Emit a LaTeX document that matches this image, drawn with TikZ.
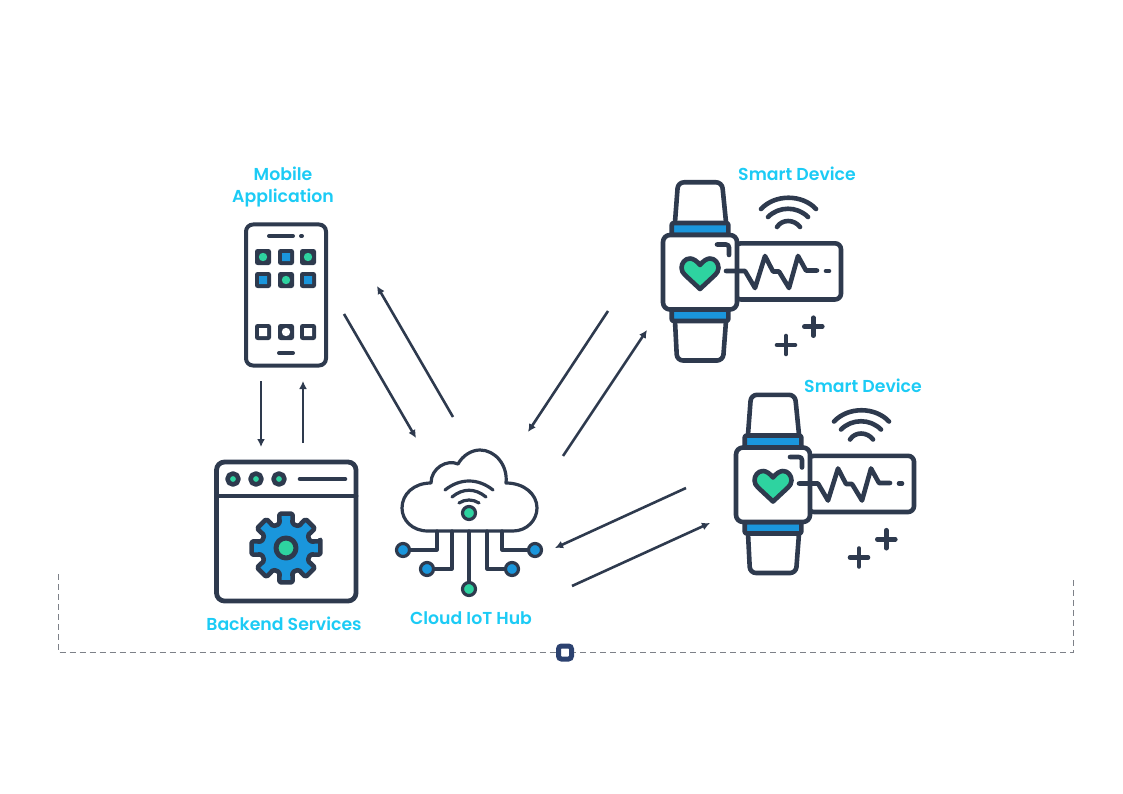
\documentclass[tikz,border=0pt]{standalone}
\usepackage{fontspec}
\setmainfont{Poppins}
\newfontfamily\labelfont{Poppins SemiBold}
\usetikzlibrary{arrows.meta}
\definecolor{inkdark}{HTML}{2E3A4E}
\definecolor{iconblue}{HTML}{1A96DC}
\definecolor{icongreen}{HTML}{2ED3A0}
\definecolor{labelcyan}{HTML}{1CCBF5}
\definecolor{dashgray}{HTML}{7D8188}
\definecolor{markerblue}{HTML}{2C4270}
\tikzset{
  icon/.style={draw=inkdark,line width=4.6pt,line cap=round,line join=round},
  thinicon/.style={draw=inkdark,line width=3.2pt,line cap=round,line join=round},
  label/.style={text=labelcyan,font=\fontsize{17.3}{22}\selectfont\labelfont,align=center,inner sep=0pt},
  flow/.style={draw=inkdark,line width=2.6pt,-{Latex[length=8pt,width=8pt]}},
  frame/.style={draw=dashgray,line width=1pt,dash pattern=on 6pt off 4pt},
  marker/.style={draw=markerblue,fill=white,line width=5pt,rounded corners=3pt,minimum size=13pt,inner sep=0pt},
  appkey/.style={fill=inkdark,rounded corners=2.5pt,minimum size=16pt,inner sep=0pt},
  smartwatch/.pic={
    % strap box with the pulse
    \draw[icon,fill=white,rounded corners=6pt] (735,243.3) rectangle (841,299.5);
    % straps
    \draw[icon,rounded corners=6pt] (675,222) -- (678,182.3) -- (722,182.3) -- (726,222);
    \draw[icon,rounded corners=6pt] (675,321) -- (677,360.5) -- (723,360.5) -- (726,321);
    \draw[icon,fill=iconblue,rounded corners=2pt] (671.7,223) rectangle (728.3,235);
    \draw[icon,fill=iconblue,rounded corners=2pt] (671.7,309.5) rectangle (728.3,321);
    % case
    \draw[icon,fill=white,rounded corners=7pt] (663,235) rectangle (737,309.5);
    \draw[icon,rounded corners=3pt] (717,244.5) -- (729,244.5) -- (729,255);
    \draw[icon,fill=icongreen] (700,265) .. controls (697,261) and (693,258.5) .. (690,258.5)
      .. controls (685,258.5) and (681.5,263) .. (681.5,268)
      .. controls (681.5,271) and (683,273) .. (685,275) -- (700,289) -- (715,275)
      .. controls (717,273) and (718.5,271) .. (718.5,268)
      .. controls (718.5,263) and (715,258.5) .. (710,258.5)
      .. controls (707,258.5) and (703,261) .. (700,265) -- cycle;
    \draw[icon] (726,271) -- (745,271) -- (755,288) -- (765,256) -- (773,271.5) -- (779,271.5)
      -- (789,288) -- (798,256) -- (806,270.5) -- (817,270.5);
    \draw[icon] (826,271) -- (829,271);
    % signal
    \draw[icon] (761,209) .. controls (775,194) and (802,194) .. (816,209);
    \draw[icon] (768,217) .. controls (779,206) and (797,206) .. (808,217);
    \draw[icon] (777,227) .. controls (782,219) and (794,219) .. (800,227);
    % plus signs
    \draw[icon] (777,345) -- (795,345) (786,336) -- (786,354);
    \draw[icon] (804.3,326.7) -- (822.3,326.7) (813.3,317.7) -- (813.3,335.7);
  }
}
\begin{document}
\begin{tikzpicture}[x=1pt,y=-1pt]
  \useasboundingbox (0,0) rectangle (1123,794);
  % phone
  \node[label] (mobile) at (283,187.5) {Mobile\\Application};
  \draw[icon,line width=4pt,rounded corners=7pt] (246,224.5) rectangle (326,365.5);
  \draw[icon,line width=4pt] (269,236) -- (293,236);
  \draw[icon,line width=4pt] (301,236) -- (302,236);
  \draw[icon,line width=4pt] (279,353) -- (293,353);
  \node[appkey] (appa) at (263,257) {};
  \node[appkey] (appb) at (286,257) {};
  \node[appkey] (appc) at (308,257) {};
  \node[appkey] (appd) at (263,280) {};
  \node[appkey] (appe) at (286,280) {};
  \node[appkey] (appf) at (308,280) {};
  \node[appkey] (appg) at (263,332) {};
  \node[appkey] (apph) at (286,332) {};
  \node[appkey] (appi) at (308,332) {};
  \fill[icongreen] (appa) circle (4.2) (appc) circle (4.2) (appe) circle (4.2);
  \fill[iconblue] (282,253) rectangle (290,261) (259,276) rectangle (267,284) (304,276) rectangle (312,284);
  \fill[white] (259,328) rectangle (267,336) (304,328) rectangle (312,336) (apph) circle (4.2);
  % backend window
  \node[label] (backend) at (284,624) {Backend Services};
  \draw[icon,line width=4.8pt,rounded corners=8pt] (216.5,462) rectangle (356,601);
  \draw[icon,line width=4.8pt] (216.5,496) -- (356,496);
  \foreach \x in {233,256,279}
    \draw[icon,fill=icongreen] (\x,479) circle (5.5);
  \draw[icon] (300,479) -- (345,479);
  \begin{scope}[shift={(286,548)}]
    \draw[icon,fill=iconblue,rounded corners=1.5pt] (-11:35)
      \foreach \a in {0,45,...,315} {
        -- (\a-11:35) -- (\a+11:35) -- (\a+15:25) -- (\a+30:25)
      } -- cycle;
    \draw[icon,line width=5pt,fill=icongreen] (0,0) circle (10);
  \end{scope}
  % cloud
  \node[label] (hub) at (471,618) {Cloud IoT Hub};
  \draw[thinicon] (428,531) .. controls (412,531) and (402,520) .. (402,508)
    .. controls (402,494) and (414,483) .. (431,483)
    .. controls (431,468) and (447,459) .. (458,464)
    .. controls (463,455) and (472,450) .. (480,450)
    .. controls (495,450) and (508,465) .. (506,483)
    .. controls (524,483) and (537,494) .. (537,508)
    .. controls (537,520) and (527,531) .. (513,531) -- cycle;
  \draw[thinicon] (445,490) .. controls (460,478) and (478,478) .. (493,490);
  \draw[thinicon] (452,497) .. controls (463,488) and (475,488) .. (486,497);
  \draw[thinicon] (459,503) .. controls (465,499) and (473,499) .. (479,503);
  \draw[thinicon,fill=icongreen] (469,513) circle (6.5);
  \draw[thinicon] (437,531) -- (437,550) -- (410,550);
  \draw[thinicon] (452,531) -- (452,569) -- (434,569);
  \draw[thinicon] (469,531) -- (469,582);
  \draw[thinicon] (487,531) -- (487,569) -- (505,569);
  \draw[thinicon] (502,531) -- (502,550) -- (528,550);
  \draw[thinicon,fill=iconblue] (403,550) circle (6.5);
  \draw[thinicon,fill=iconblue] (427,569) circle (6.5);
  \draw[thinicon,fill=icongreen] (469,589) circle (6.5);
  \draw[thinicon,fill=iconblue] (512,569) circle (6.5);
  \draw[thinicon,fill=iconblue] (535,550) circle (6.5);
  % watches
  \node[label] (devicea) at (797,174) {Smart Device};
  \node[label] (deviceb) at (863,386) {Smart Device};
  \pic at (0,0) {smartwatch};
  \pic at (73,212.5) {smartwatch};
  % flows
  \coordinate (phonedown) at (261,381);
  \coordinate (backendin) at (261,447);
  \coordinate (backendout) at (303,443);
  \coordinate (phoneup) at (303,381);
  \coordinate (phoneout) at (344,314);
  \coordinate (hubinl) at (416,438);
  \coordinate (huboutl) at (453,417);
  \coordinate (phonein) at (377,286);
  \coordinate (watchout) at (608,311);
  \coordinate (hubinr) at (528,432);
  \coordinate (huboutr) at (563,456);
  \coordinate (watchin) at (647,330);
  \coordinate (watchbout) at (686,488);
  \coordinate (hubinb) at (555,548);
  \coordinate (huboutb) at (572,586);
  \coordinate (watchbin) at (710,523);
  \draw[flow] (phonedown) -- (backendin);
  \draw[flow] (backendout) -- (phoneup);
  \draw[flow] (phoneout) -- (hubinl);
  \draw[flow] (huboutl) -- (phonein);
  \draw[flow] (watchout) -- (hubinr);
  \draw[flow] (huboutr) -- (watchin);
  \draw[flow] (watchbout) -- (hubinb);
  \draw[flow] (huboutb) -- (watchbin);
  % dashed frame
  \node[marker] (handle) at (565,652.5) {};
  \coordinate (framel) at (58,574);
  \coordinate (framer) at (1073,580);
  \draw[frame] (framel) |- (handle.west);
  \draw[frame] (framer) |- (handle.east);
\end{tikzpicture}
\end{document}
